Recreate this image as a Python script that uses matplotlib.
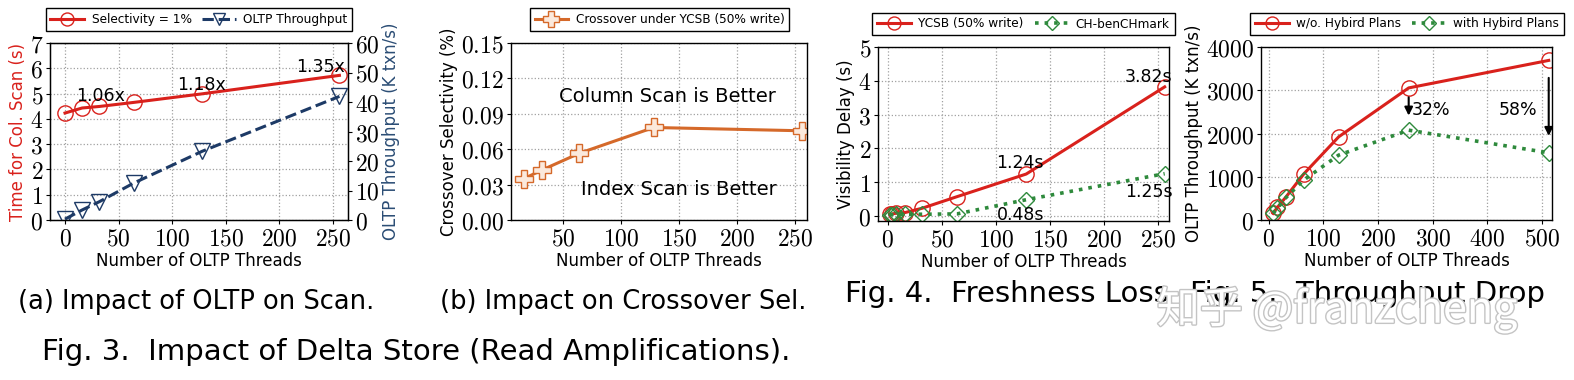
import matplotlib
matplotlib.use("Agg")
import matplotlib.pyplot as plt
import matplotlib.patheffects as pe
from matplotlib.ticker import FuncFormatter, MultipleLocator

plt.rcParams['mathtext.fontset'] = 'cm'
plt.rcParams['font.family'] = ['DejaVu Sans']

# ---------------- data ----------------
threads_a = [0, 16, 32, 64, 128, 256]
scan_time = [4.23, 4.43, 4.49, 4.65, 4.99, 5.72]
oltp_tput_a = [0.3, 3.4, 6.2, 12.5, 23.3, 41.9]
labels_a = ["1.06x", "1.18x", "1.35x"]

threads_b = [16, 32, 64, 128, 256]
crossover = [0.035, 0.0425, 0.0566, 0.0784, 0.0756]

threads_c = [2, 4, 8, 16, 32, 64, 128, 256]
delay_ycsb = [0.05, 0.06, 0.08, 0.10, 0.23, 0.57, 1.24, 3.82]
delay_ch = [0.03, 0.04, 0.05, 0.05, 0.05, 0.06, 0.48, 1.25]

threads_d = [8, 16, 32, 64, 128, 256, 512]
tput_wo = [154, 292, 538, 1062, 1923, 3054, 3690]
tput_with = [154, 270, 523, 923, 1500, 2077, 1554]
drops_d = ["32%", "58%"]

W, H = 1574, 380
fig = plt.figure(figsize=(W / 100, H / 100), dpi=100)


def px_axes(x0, y0, x1, y1):
    return fig.add_axes([x0 / W, 1 - y1 / H, (x1 - x0) / W, (y1 - y0) / H])


RED = '#d9211c'
BLUE = '#1d3a66'
ORANGE = '#d5692a'
GREEN = '#2e8a3c'
TICK_FS = 17
LAB_FS = 12
LEG_FS = 8.7
ANN_FS = 12.5

mathfmt = FuncFormatter(lambda v, p: r'$%g$' % v)


def style(ax):
    ax.grid(True, linestyle=':', color='#a0a0a0', linewidth=0.9)
    ax.set_axisbelow(True)
    ax.tick_params(labelsize=TICK_FS, length=3, pad=2)
    for s in ax.spines.values():
        s.set_linewidth(1.0)


def legend(ax, cx, cy, handles=None):
    kw = dict(loc='center', bbox_to_anchor=(cx / W, 1 - cy / H),
              bbox_transform=fig.transFigure, ncol=2, fontsize=LEG_FS,
              fancybox=False, edgecolor='black', framealpha=1,
              handlelength=2.8, columnspacing=0.9, handletextpad=0.6,
              borderpad=0.4, markerscale=0.85)
    if handles is not None:
        leg = ax.legend(handles=handles, **kw)
    else:
        leg = ax.legend(**kw)
    leg.get_frame().set_linewidth(1.0)
    return leg


# ---------------- panel (a) ----------------
ax = px_axes(50, 43, 348, 220)
style(ax)
l1, = ax.plot(threads_a, scan_time, color=RED, lw=2.2, marker='o', ms=11,
              mfc='none', mec=RED, mew=1.0, label='Selectivity = 1%')
ax.set_xlim(-14, 264)
ax.set_ylim(0, 7)
ax.xaxis.set_major_locator(MultipleLocator(50))
ax.yaxis.set_major_locator(MultipleLocator(1))
ax.xaxis.set_major_formatter(mathfmt)
ax.yaxis.set_major_formatter(mathfmt)
ax.set_xlabel('Number of OLTP Threads', fontsize=LAB_FS, labelpad=1)
ax.set_ylabel('Time for Col. Scan (s)', fontsize=LAB_FS, color=RED, labelpad=2)
ax.text(33, 4.9, labels_a[0], ha='center', va='center', fontsize=ANN_FS)
ax.text(127, 5.34, labels_a[1], ha='center', va='center', fontsize=ANN_FS)
ax.text(238, 6.05, labels_a[2], ha='center', va='center', fontsize=ANN_FS)
ax2 = ax.twinx()
l2, = ax2.plot(threads_a, oltp_tput_a, color=BLUE, lw=2.2, ls='--', marker='v', ms=11,
               mfc='none', mec=BLUE, mew=1.0, label='OLTP Throughput')
ax2.set_ylim(0, 60)
ax2.yaxis.set_major_locator(MultipleLocator(10))
ax2.yaxis.set_major_formatter(mathfmt)
ax2.tick_params(labelsize=TICK_FS, length=3, pad=2)
ax2.set_ylabel('OLTP Throughput (K txn/s)', fontsize=LAB_FS, color='#2b4d75', labelpad=2)
legend(ax2, 199, 19.5, handles=[l1, l2])

# ---------------- panel (b) ----------------
ax = px_axes(511, 43, 807, 220)
style(ax)
ax.plot(threads_b, crossover, color=ORANGE, lw=2.2, marker='P', ms=13,
        mfc='#fbe9dc', mec=ORANGE, mew=1.0, label='Crossover under YCSB (50% write)')
ax.set_xlim(5, 260)
ax.set_ylim(0, 0.15)
ax.xaxis.set_major_locator(MultipleLocator(50))
ax.yaxis.set_major_locator(MultipleLocator(0.03))
ax.xaxis.set_major_formatter(mathfmt)
ax.yaxis.set_major_formatter(FuncFormatter(lambda v, p: r'$%.2f$' % v))
ax.set_xlabel('Number of OLTP Threads', fontsize=LAB_FS, labelpad=1)
ax.set_ylabel('Crossover Selectivity (%)', fontsize=LAB_FS, labelpad=2)
ax.text(140, 0.105, 'Column Scan is Better', ha='center', va='center', fontsize=14)
ax.text(150, 0.026, 'Index Scan is Better', ha='center', va='center', fontsize=14)
legend(ax, 659.5, 19.5)

# ---------------- panel (c) ----------------
ax = px_axes(878, 47, 1169, 221)
style(ax)
ax.plot(threads_c, delay_ycsb, color=RED, lw=2.2, marker='o', ms=11,
        mfc='none', mec=RED, mew=1.0, label='YCSB (50% write)')
ax.plot(threads_c, delay_ch, color=GREEN, lw=2.6, ls=':', marker='D', ms=8,
        mfc='none', mec=GREEN, mew=1.0, label='CH-benCHmark')
ax.set_xlim(-9, 260)
ax.set_ylim(-0.15, 5)
ax.xaxis.set_major_locator(MultipleLocator(50))
ax.yaxis.set_major_locator(MultipleLocator(1))
ax.xaxis.set_major_formatter(mathfmt)
ax.yaxis.set_major_formatter(mathfmt)
ax.set_xlabel('Number of OLTP Threads', fontsize=LAB_FS, labelpad=1)
ax.set_ylabel('Visibility Delay (s)', fontsize=LAB_FS, labelpad=2)
ax.text(241, 4.1, '%.2fs' % delay_ycsb[-1], ha='center', va='center', fontsize=ANN_FS)
ax.text(122, 1.56, '%.2fs' % delay_ycsb[-2], ha='center', va='center', fontsize=ANN_FS)
ax.text(241, 0.72, '%.2fs' % delay_ch[-1], ha='center', va='center', fontsize=ANN_FS)
ax.text(123, 0.03, '%.2fs' % delay_ch[-2], ha='center', va='center', fontsize=ANN_FS)
legend(ax, 1023.5, 24)

# ---------------- panel (d) ----------------
ax = px_axes(1261, 47, 1552, 220)
style(ax)
ax.plot(threads_d, tput_wo, color=RED, lw=2.2, marker='o', ms=11,
        mfc='none', mec=RED, mew=1.0, label='w/o. Hybird Plans')
ax.plot(threads_d, tput_with, color=GREEN, lw=2.6, ls=':', marker='D', ms=8,
        mfc='none', mec=GREEN, mew=1.0, label='with Hybird Plans')
ax.set_xlim(-14, 518)
ax.set_ylim(0, 4000)
ax.xaxis.set_major_locator(MultipleLocator(100))
ax.yaxis.set_major_locator(MultipleLocator(1000))
ax.xaxis.set_major_formatter(mathfmt)
ax.yaxis.set_major_formatter(mathfmt)
ax.set_xlabel('Number of OLTP Threads', fontsize=LAB_FS, labelpad=1)
ax.set_ylabel('OLTP Throughput (K txn/s)', fontsize=LAB_FS, labelpad=2)
ax.annotate('', xy=(256, 2350), xytext=(256, 2900),
            arrowprops=dict(arrowstyle='-|>', color='black', lw=1.5, mutation_scale=12))
ax.text(262, 2540, drops_d[0], ha='left', va='center', fontsize=ANN_FS)
ax.annotate('', xy=(512, 1880), xytext=(512, 3350),
            arrowprops=dict(arrowstyle='-|>', color='black', lw=1.5, mutation_scale=12))
ax.text(455, 2540, drops_d[1], ha='center', va='center', fontsize=ANN_FS)
legend(ax, 1407, 24)

# ---------------- captions ----------------
cap_fs = 18.5
fig.text(18 / W, 1 - 302 / H, '(a) Impact of OLTP on Scan.', fontsize=cap_fs,
         va='center', ha='left')
fig.text(440 / W, 1 - 302 / H, '(b) Impact on Crossover Sel.', fontsize=cap_fs,
         va='center', ha='left')
fig.text(42 / W, 1 - 352 / H, 'Fig. 3.  Impact of Delta Store (Read Amplifications).',
         fontsize=21, va='center', ha='left')
fig.text(845 / W, 1 - 294 / H, 'Fig. 4.  Freshness Loss', fontsize=21,
         va='center', ha='left')
fig.text(1190 / W, 1 - 294 / H, 'Fig. 5.  Throughput Drop', fontsize=21,
         va='center', ha='left')
fig.text(1337 / W, 1 - 310 / H, '知乎 @franzcheng', fontsize=31,
         family=['Noto Sans CJK SC', 'DejaVu Sans'], va='center', ha='center',
         color='white',
         path_effects=[pe.withStroke(linewidth=2.0, foreground='#c4c4c4')])

fig.savefig('out.png', dpi=100)
